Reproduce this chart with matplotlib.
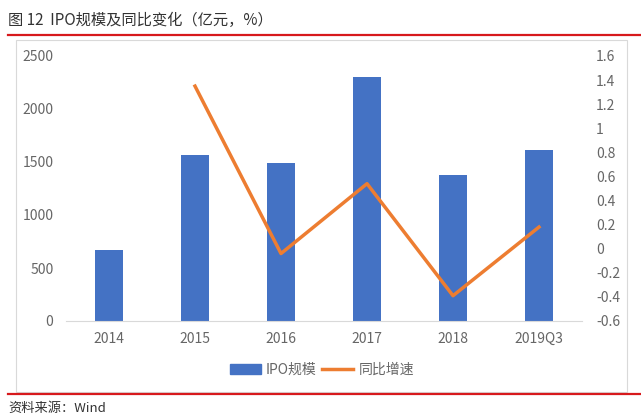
import matplotlib.pyplot as plt
from matplotlib.patches import Rectangle
from matplotlib.lines import Line2D

plt.rcParams['font.family'] = ['Noto Sans CJK SC', 'DejaVu Sans']

years = ['2014', '2015', '2016', '2017', '2018', '2019Q3']
ipo_size = [668, 1566, 1491, 2301, 1378, 1613]
growth_years = ['2015', '2016', '2017', '2018', '2019Q3']
growth = [1.35, -0.04, 0.54, -0.39, 0.18]

left_ticks = [0, 500, 1000, 1500, 2000, 2500]
right_ticks = [-0.6, -0.4, -0.2, 0, 0.2, 0.4, 0.6, 0.8, 1, 1.2, 1.4, 1.6]

BLUE = '#4472C4'
ORANGE = '#ED7D31'
GRAY = '#666666'

W, H = 641, 418
fig = plt.figure(figsize=(W / 100, H / 100), dpi=100)

# title, red rules and chart frame
fig.text(8 / W, 1 - 20 / H, '图 12  IPO规模及同比变化（亿元，%）', fontsize=11,
         color='#333333', va='center', ha='left')
fig.add_artist(Line2D([8 / W, 1], [1 - 35 / H] * 2, color='#D7191C', lw=1.6))
fig.add_artist(Line2D([8 / W, 1], [1 - 394 / H] * 2, color='#D7191C', lw=1.6))
fig.add_artist(Rectangle((16 / W, 1 - 392 / H), (627 - 16) / W, (392 - 40) / H,
                         fill=False, edgecolor='#D9D9D9', lw=0.8))
fig.text(8 / W, 1 - 408 / H, '资料来源：Wind', fontsize=9.5, color='#333333',
         va='center', ha='left')

ax = fig.add_axes([66 / W, 1 - 321 / H, (582 - 66) / W, (321 - 56) / H])
x = list(range(len(years)))
ax.bar(x, ipo_size, width=0.33, color=BLUE, zorder=2)
ax.set_xlim(-0.5, len(years) - 0.5)
ax.set_ylim(0, 2500)
ax.set_yticks(left_ticks)
ax.set_xticks(x)
ax.set_xticklabels(years)
for side in ['top', 'right', 'left']:
    ax.spines[side].set_visible(False)
ax.spines['bottom'].set_color('#D9D9D9')
ax.tick_params(axis='both', length=0, colors=GRAY, labelsize=10)
ax.tick_params(axis='x', pad=8)
ax.tick_params(axis='y', pad=9)

ax2 = ax.twinx()
gx = [years.index(g) for g in growth_years]
ax2.plot(gx, growth, color=ORANGE, lw=2.5, zorder=3)
ax2.set_ylim(-0.6, 1.6)
ax2.set_yticks(right_ticks)
ax2.set_yticklabels([f'{t:g}' for t in right_ticks])
for side in ['top', 'right', 'left', 'bottom']:
    ax2.spines[side].set_visible(False)
ax2.tick_params(axis='y', length=0, colors=GRAY, labelsize=10, pad=10)

handles = [Rectangle((0, 0), 1, 1, color=BLUE), Line2D([], [], color=ORANGE, lw=2.5)]
fig.legend(handles, ['IPO规模', '同比增速'], loc='center', ncol=2,
           bbox_to_anchor=(322 / W, 1 - 370 / H), frameon=False,
           fontsize=10, labelcolor=GRAY, handlelength=2.2, columnspacing=0.4,
           handletextpad=0.4)

fig.savefig('out.png', dpi=100)
